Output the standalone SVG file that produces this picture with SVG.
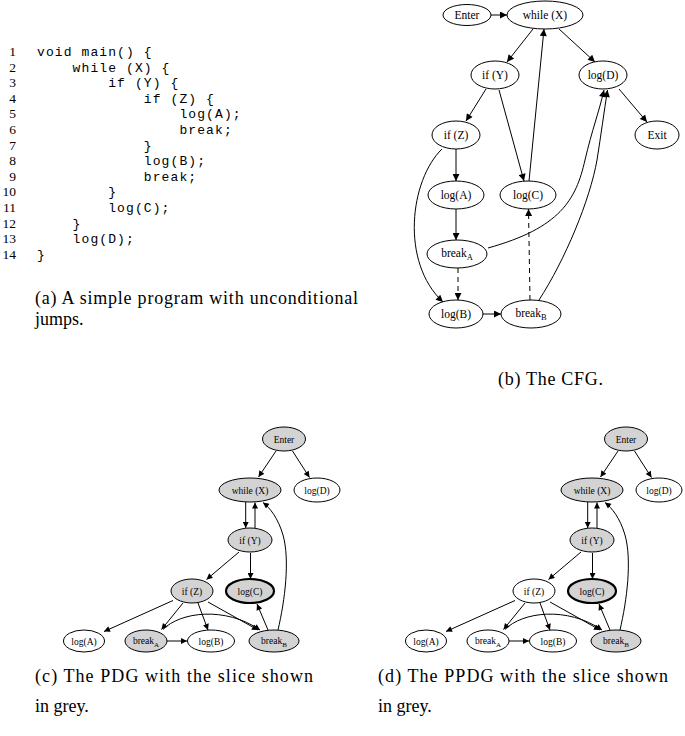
<svg xmlns="http://www.w3.org/2000/svg" width="685" height="736" viewBox="0 0 685 736">
<style>
.code{font-family:"Liberation Mono",monospace;font-size:13px;letter-spacing:1.1px;fill:#000}
.ln{font-family:"Liberation Serif",serif;font-size:13.5px;text-anchor:end;fill:#000}
.cap{font-family:"Liberation Serif",serif;font-size:18px;fill:#000}
.n ellipse{fill:#fff;stroke:#000;stroke-width:1}
.n.g ellipse{fill:#d3d3d3}
.n.b ellipse{stroke-width:2.2}
.cfg text{font-family:"Liberation Serif",serif;font-size:11.5px;text-anchor:middle;fill:#000}
.pdg text{font-family:"Liberation Serif",serif;font-size:9.5px;text-anchor:middle;fill:#000}
.e path{fill:none;stroke:#000;stroke-width:1}
.cfg .e path{marker-end:url(#a1)}
.pdg .e path{marker-end:url(#a2)}
.e path.d{stroke-dasharray:5,4}
</style>
<defs>
<marker id="a1" viewBox="0 0 10 10" refX="10" refY="5" markerWidth="9" markerHeight="7" orient="auto" markerUnits="userSpaceOnUse"><path d="M0,0 L10,5 L0,10 z" fill="#000"/></marker>
<marker id="a2" viewBox="0 0 10 10" refX="10" refY="5" markerWidth="7.5" markerHeight="6" orient="auto" markerUnits="userSpaceOnUse"><path d="M0,0 L10,5 L0,10 z" fill="#000"/></marker>
</defs>

<!-- (a) code listing -->
<g id="code">
<text class="ln" x="16" y="56">1</text><text class="code" x="37" y="56">void main() {</text>
<text class="ln" x="16" y="71.6">2</text><text class="code" x="72.6" y="71.6">while (X) {</text>
<text class="ln" x="16" y="87.2">3</text><text class="code" x="108.2" y="87.2">if (Y) {</text>
<text class="ln" x="16" y="102.8">4</text><text class="code" x="143.8" y="102.8">if (Z) {</text>
<text class="ln" x="16" y="118.4">5</text><text class="code" x="179.4" y="118.4">log(A);</text>
<text class="ln" x="16" y="134">6</text><text class="code" x="179.4" y="134">break;</text>
<text class="ln" x="16" y="149.6">7</text><text class="code" x="143.8" y="149.6">}</text>
<text class="ln" x="16" y="165.2">8</text><text class="code" x="143.8" y="165.2">log(B);</text>
<text class="ln" x="16" y="180.8">9</text><text class="code" x="143.8" y="180.8">break;</text>
<text class="ln" x="16" y="196.4">10</text><text class="code" x="108.2" y="196.4">}</text>
<text class="ln" x="16" y="212">11</text><text class="code" x="108.2" y="212">log(C);</text>
<text class="ln" x="16" y="227.6">12</text><text class="code" x="72.6" y="227.6">}</text>
<text class="ln" x="16" y="243.2">13</text><text class="code" x="72.6" y="243.2">log(D);</text>
<text class="ln" x="16" y="258.8">14</text><text class="code" x="37" y="258.8">}</text>
</g>
<text class="cap" x="35" y="304" textLength="323" lengthAdjust="spacing">(a) A simple program with unconditional</text>
<text class="cap" x="35" y="325">jumps.</text>

<!-- (b) CFG -->
<g id="cfg" class="cfg">
<g class="e" id="cfg-edges">
<path d="M491,15 L507,15"/>
<path d="M533,29 L507,62"/>
<path d="M559,29 L595,62"/>
<path d="M529,181 L544,29"/>
<path d="M499,90 L524,181"/>
<path d="M486,89 L466,121"/>
<path d="M619,89 L647,122"/>
<path d="M456,149 L456,181"/>
<path d="M442,149 C410,180 400,262 443,302"/>
<path d="M456,209 L456,240"/>
<path class="d" d="M458,268 L458,300"/>
<path d="M483,314 L501,314"/>
<path class="d" d="M530,300 L528.5,209"/>
<path d="M488,248 C560,228 576,200 585,160 C592,130 599,112 604,90"/>
<path d="M539,300 C565,260 590,200 597,160 C601,135 604,112 607.5,90"/>
</g>
<g id="cfg-enter" class="n"><ellipse cx="467" cy="15" rx="24" ry="10.5"/><text x="467" y="19">Enter</text></g>
<g id="cfg-while" class="n"><ellipse cx="545" cy="15" rx="38" ry="14"/><text x="545" y="19">while (X)</text></g>
<g id="cfg-ify" class="n"><ellipse cx="495" cy="75" rx="24" ry="14"/><text x="495" y="79">if (Y)</text></g>
<g id="cfg-logd" class="n"><ellipse cx="603" cy="75" rx="24" ry="14"/><text x="603" y="79">log(D)</text></g>
<g id="cfg-ifz" class="n"><ellipse cx="456" cy="135" rx="24" ry="14"/><text x="456" y="139">if (Z)</text></g>
<g id="cfg-exit" class="n"><ellipse cx="657" cy="135" rx="22" ry="14"/><text x="657" y="139">Exit</text></g>
<g id="cfg-loga" class="n"><ellipse cx="456" cy="195" rx="28" ry="14"/><text x="456" y="199">log(A)</text></g>
<g id="cfg-logc" class="n"><ellipse cx="528" cy="195" rx="28" ry="14"/><text x="528" y="199">log(C)</text></g>
<g id="cfg-breaka" class="n"><ellipse cx="457" cy="254" rx="30" ry="14"/><text x="457" y="257">break<tspan font-size="8.5" dy="3">A</tspan></text></g>
<g id="cfg-logb" class="n"><ellipse cx="456" cy="314" rx="27" ry="14"/><text x="456" y="318">log(B)</text></g>
<g id="cfg-breakb" class="n"><ellipse cx="531" cy="314" rx="30" ry="14"/><text x="531" y="317">break<tspan font-size="8.5" dy="3">B</tspan></text></g>
</g>
<text class="cap" x="498" y="385" textLength="105" lengthAdjust="spacing">(b) The CFG.</text>

<!-- (c) PDG -->
<g id="pdg" class="pdg">
<g class="e" id="pdg-edges">
<path d="M276,451 L258.5,477"/>
<path d="M292.5,451 L309.5,477.5"/>
<path d="M245.7,502 L245.7,528"/>
<path d="M255,528 L255,502.5"/>
<path d="M239,552 L206.5,579.5"/>
<path d="M250.5,553 L250.5,579"/>
<path d="M173,600.5 L104,631.5"/>
<path d="M183,603 L161.5,629.5"/>
<path d="M198,603 L208,630"/>
<path d="M208,602 L258,630"/>
<path d="M163,629.5 C180,612 225,606 260,630"/>
<path d="M167,641 L187,641"/>
<path d="M268,630 L257,604"/>
<path d="M278,630 C285,600 290,560 283,535 C278,518 270,508 263,502.5"/>
</g>
<g id="pdg-enter" class="n g"><ellipse cx="284" cy="439" rx="21.5" ry="12"/><text x="284" y="442.5">Enter</text></g>
<g id="pdg-while" class="n g"><ellipse cx="250" cy="490" rx="31" ry="12"/><text x="250" y="493.5">while (X)</text></g>
<g id="pdg-logd" class="n"><ellipse cx="317" cy="490" rx="23" ry="12"/><text x="317" y="493.5">log(D)</text></g>
<g id="pdg-ify" class="n g"><ellipse cx="250" cy="540" rx="22" ry="12"/><text x="250" y="543.5">if (Y)</text></g>
<g id="pdg-ifz" class="n g"><ellipse cx="192" cy="591" rx="21" ry="12"/><text x="192" y="594.5">if (Z)</text></g>
<g id="pdg-logc" class="n g b"><ellipse cx="250" cy="591" rx="24" ry="12"/><text x="250" y="594.5">log(C)</text></g>
<g id="pdg-loga" class="n"><ellipse cx="84" cy="641" rx="20.5" ry="11"/><text x="84" y="644.5">log(A)</text></g>
<g id="pdg-breaka" class="n g"><ellipse cx="146" cy="641" rx="21" ry="11"/><text x="146" y="643.5">break<tspan font-size="7" dy="3">A</tspan></text></g>
<g id="pdg-logb" class="n"><ellipse cx="211" cy="641" rx="23.5" ry="11"/><text x="211" y="644.5">log(B)</text></g>
<g id="pdg-breakb" class="n g"><ellipse cx="274" cy="641" rx="25" ry="11"/><text x="274" y="643.5">break<tspan font-size="7" dy="3">B</tspan></text></g>
</g>
<text class="cap" x="35" y="682" textLength="278" lengthAdjust="spacing">(c) The PDG with the slice shown</text>
<text class="cap" x="35" y="712">in grey.</text>

<!-- (d) PPDG -->
<g id="ppdg" class="pdg" transform="translate(342,0)">
<g class="e" id="ppdg-edges">
<path d="M276,451 L258.5,477"/>
<path d="M292.5,451 L309.5,477.5"/>
<path d="M245.7,502 L245.7,528"/>
<path d="M255,528 L255,502.5"/>
<path d="M239,552 L206.5,579.5"/>
<path d="M250.5,553 L250.5,579"/>
<path d="M173,600.5 L104,631.5"/>
<path d="M183,603 L161.5,629.5"/>
<path d="M198,603 L208,630"/>
<path d="M208,602 L258,630"/>
<path d="M163,629.5 C180,612 225,606 260,630"/>
<path d="M167,641 L187,641"/>
<path d="M268,630 L257,604"/>
<path d="M278,630 C285,600 290,560 283,535 C278,518 270,508 263,502.5"/>
</g>
<g id="ppdg-enter" class="n g"><ellipse cx="284" cy="439" rx="21.5" ry="12"/><text x="284" y="442.5">Enter</text></g>
<g id="ppdg-while" class="n g"><ellipse cx="250" cy="490" rx="31" ry="12"/><text x="250" y="493.5">while (X)</text></g>
<g id="ppdg-logd" class="n"><ellipse cx="317" cy="490" rx="23" ry="12"/><text x="317" y="493.5">log(D)</text></g>
<g id="ppdg-ify" class="n g"><ellipse cx="250" cy="540" rx="22" ry="12"/><text x="250" y="543.5">if (Y)</text></g>
<g id="ppdg-ifz" class="n"><ellipse cx="192" cy="591" rx="21" ry="12"/><text x="192" y="594.5">if (Z)</text></g>
<g id="ppdg-logc" class="n g b"><ellipse cx="250" cy="591" rx="24" ry="12"/><text x="250" y="594.5">log(C)</text></g>
<g id="ppdg-loga" class="n"><ellipse cx="84" cy="641" rx="20.5" ry="11"/><text x="84" y="644.5">log(A)</text></g>
<g id="ppdg-breaka" class="n"><ellipse cx="146" cy="641" rx="21" ry="11"/><text x="146" y="643.5">break<tspan font-size="7" dy="3">A</tspan></text></g>
<g id="ppdg-logb" class="n"><ellipse cx="211" cy="641" rx="23.5" ry="11"/><text x="211" y="644.5">log(B)</text></g>
<g id="ppdg-breakb" class="n g"><ellipse cx="274" cy="641" rx="25" ry="11"/><text x="274" y="643.5">break<tspan font-size="7" dy="3">B</tspan></text></g>
</g>
<text class="cap" x="378" y="682" textLength="290" lengthAdjust="spacing">(d) The PPDG with the slice shown</text>
<text class="cap" x="378" y="712">in grey.</text>
</svg>
